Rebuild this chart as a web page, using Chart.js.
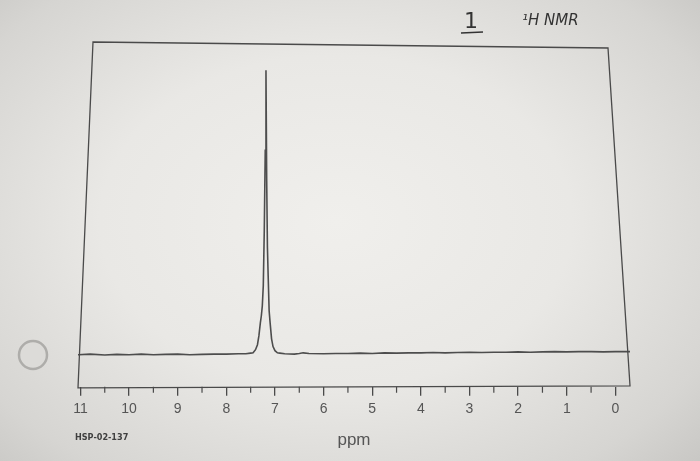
<!DOCTYPE html>
<html>
<head>
<meta charset="utf-8">
<script src="https://cdn.jsdelivr.net/npm/chart.js@4"></script>
<style>
  html, body { margin: 0; padding: 0; }
  body {
    width: 700px; height: 461px; overflow: hidden;
    background: radial-gradient(ellipse 75% 80% at 48% 48%, #f0efec 0%, #e9e8e5 45%, #d6d5d2 80%, #c4c3c0 100%);
  }
  canvas { display: block; }
</style>
</head>
<body>
<canvas id="c" width="700" height="461"></canvas>
<script>
// chemical shift (ppm) and signal intensity
const ppm = [11.05, 10.8, 10.5, 10.25, 10.0, 9.75, 9.5, 9.25, 9.0, 8.75, 8.5, 8.25, 8.0, 7.75, 7.6, 7.5,
  7.45, 7.40, 7.36, 7.33, 7.30, 7.28, 7.26, 7.24, 7.22, 7.20, 7.185, 7.17, 7.155, 7.14, 7.12, 7.10, 7.07, 7.04, 7.00, 6.95,
  6.9, 6.8, 6.6, 6.5, 6.42, 6.3, 6.0, 5.75, 5.5, 5.25, 5.0, 4.75, 4.5, 4.25, 4.0, 3.75, 3.5, 3.25, 3.0,
  2.75, 2.5, 2.25, 2.0, 1.75, 1.5, 1.25, 1.0, 0.75, 0.5, 0.25, 0.0, -0.3];
const intensity = [0.3, 0.5, 0.2, 0.4, 0.3, 0.5, 0.3, 0.4, 0.5, 0.3, 0.4, 0.5, 0.5, 0.6, 0.6, 0.8,
  0.9, 1.9, 3.5, 6.4, 10.6, 12.8, 16, 22.5, 40, 65.9, 91.6, 56, 34.7, 25.7, 14.4, 10.6, 5.4, 2.9, 1.6, 0.9,
  0.8, 0.6, 0.5, 0.7, 0.9, 0.7, 0.6, 0.7, 0.7, 0.8, 0.7, 0.9, 0.8, 0.9, 0.9, 1.0, 0.9, 1.0, 1.1,
  1.0, 1.1, 1.1, 1.2, 1.1, 1.2, 1.3, 1.2, 1.3, 1.3, 1.2, 1.3, 1.3];
const majorTicks = [11, 10, 9, 8, 7, 6, 5, 4, 3, 2, 1, 0];
const minorTicks = [10.5, 9.5, 8.5, 7.5, 6.5, 5.5, 4.5, 3.5, 2.5, 1.5, 0.5];
const axisTitle = 'ppm';
const sampleId = 'HSP-02-137';
const noteNumber = '1';
const noteText = '\u00B9H NMR';

const points = ppm.map((p, i) => ({ x: p, y: intensity[i] }));

const decor = {
  id: 'decor',
  beforeDraw(chart) {
    const ctx = chart.ctx;
    ctx.save();
    // punched hole / circle at left edge
    ctx.beginPath();
    ctx.arc(33, 355, 14, 0, Math.PI * 2);
    ctx.fillStyle = '#dcdbd8';
    ctx.fill();
    ctx.lineWidth = 2.5;
    ctx.strokeStyle = '#aeadaa';
    ctx.stroke();
    ctx.restore();
  },
  afterDraw(chart) {
    const { ctx, chartArea: a } = chart;
    const x = chart.scales.x;
    ctx.save();
    ctx.strokeStyle = '#4a4a4a';
    ctx.lineWidth = 1.3;
    // frame (slightly skewed as in the photographed printout)
    ctx.beginPath();
    ctx.moveTo(a.left + 15, a.top - 2);
    ctx.lineTo(a.right - 22, a.top + 4);
    ctx.lineTo(a.right, a.bottom - 1);
    ctx.lineTo(a.left, a.bottom + 1);
    ctx.closePath();
    ctx.stroke();
    // minor ticks
    ctx.lineWidth = 1.2;
    ctx.beginPath();
    minorTicks.forEach(v => {
      const px = x.getPixelForValue(v);
      ctx.moveTo(px, a.bottom);
      ctx.lineTo(px, a.bottom + 6);
    });
    ctx.stroke();
    // sample id
    ctx.fillStyle = '#3f3f3f';
    ctx.font = 'bold 9px "DejaVu Sans Condensed", "DejaVu Sans", sans-serif';
    ctx.textBaseline = 'middle';
    ctx.fillText(sampleId, 75, 438);
    // handwritten note
    ctx.fillStyle = '#333';
    ctx.font = '22px "DejaVu Sans", sans-serif';
    ctx.textAlign = 'center';
    ctx.fillText(noteNumber, 471, 22);
    ctx.beginPath();
    ctx.lineWidth = 1.5;
    ctx.strokeStyle = '#333';
    ctx.moveTo(461, 33);
    ctx.lineTo(483, 32);
    ctx.stroke();
    ctx.textAlign = 'left';
    ctx.font = 'italic 15px "DejaVu Sans", sans-serif';
    ctx.fillText(noteText, 522, 21);
    ctx.restore();
  }
};

new Chart(document.getElementById('c'), {
  type: 'scatter',
  data: {
    datasets: [{
      data: points,
      showLine: true,
      borderColor: '#4d4d4d',
      borderWidth: 1.6,
      pointRadius: 0,
      tension: 0,
      fill: false
    }]
  },
  options: {
    responsive: false,
    animation: false,
    events: [],
    layout: { padding: { left: 78, right: 70, top: 44, bottom: 10 } },
    plugins: { legend: { display: false }, tooltip: { enabled: false } },
    scales: {
      x: {
        type: 'linear',
        reverse: true,
        min: -0.3,
        max: 11.05,
        afterBuildTicks: s => { s.ticks = majorTicks.map(v => ({ value: v })); },
        grid: { drawOnChartArea: false, drawTicks: true, tickLength: 9, color: '#4a4a4a', lineWidth: 1.3 },
        border: { display: false },
        ticks: {
          autoSkip: false, maxRotation: 0, padding: 5,
          color: '#555', font: { family: '"Liberation Sans", Arial, sans-serif', size: 14 },
          callback: v => String(v)
        },
        title: {
          display: true, text: axisTitle, color: '#555',
          font: { family: '"Liberation Sans", Arial, sans-serif', size: 17 },
          padding: { top: 8, bottom: 0 }
        }
      },
      y: {
        display: false,
        min: -10,
        max: 100
      }
    }
  },
  plugins: [decor]
});
</script>
</body>
</html>
